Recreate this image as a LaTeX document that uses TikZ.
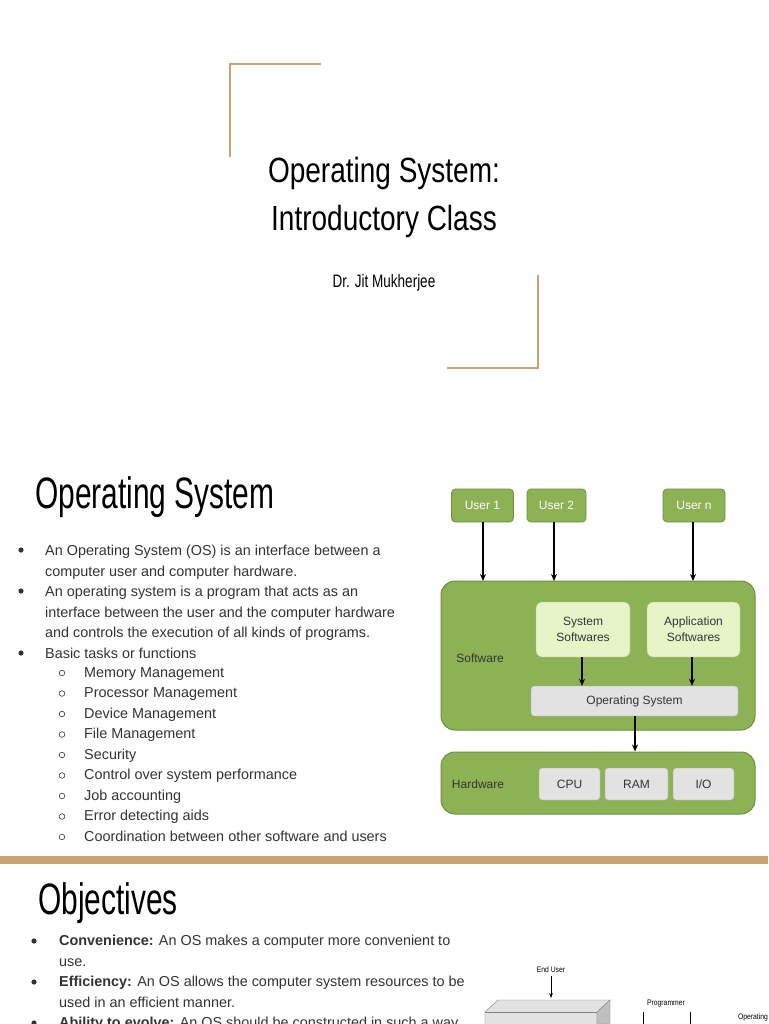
\documentclass[tikz,border=0pt]{standalone}
\usepackage{fontspec}
\setmainfont{Liberation Sans}
\usetikzlibrary{arrows.meta}
\definecolor{tan}{HTML}{C9A271}
\definecolor{gfill}{HTML}{8DB255}
\definecolor{gdraw}{HTML}{6E8F3E}
\definecolor{lgfill}{HTML}{E6F5C8}
\definecolor{gray1}{HTML}{E2E2E2}
\definecolor{txt}{HTML}{333333}
\begin{document}
\begin{tikzpicture}[x=1pt,y=-1pt,
  title/.style={font=\fontsize{35}{36}\selectfont, xscale=0.8, transform shape, inner sep=0},
  big/.style={font=\fontsize{44}{46}\selectfont, xscale=0.68, transform shape, inner sep=0, anchor=west},
  body/.style={font=\fontsize{14.4}{20.5}\selectfont, text=txt, anchor=north west, inner sep=0, align=left},
  usr/.style={draw=gdraw, fill=gfill, rounded corners=4pt, line width=0.8pt, text=white, font=\fontsize{12}{13}\selectfont, minimum width=62pt, minimum height=33pt},
  grp/.style={draw=gdraw, fill=gfill, rounded corners=14pt, line width=1pt},
  inner/.style={draw=gdraw!60, fill=lgfill, rounded corners=6pt, align=center, font=\fontsize{12}{16}\selectfont, text=txt},
  gbox/.style={draw=gray!70, fill=gray1, rounded corners=3pt, font=\fontsize{12}{13}\selectfont, text=txt},
  arr/.style={-{Stealth[length=7pt,width=6pt]}, line width=1.5pt},
  br/.style={draw=tan, line width=1.2pt}]
\useasboundingbox (0,0) rectangle (768,1024);
\fill[white] (0,0) rectangle (768,1024);
% slide 1
\draw[br] (230,157) -- (230,64) -- (321,64);
\draw[br] (447,368) -- (538,368) -- (538,275);
\node[title] (t1) at (384,173) {Operating System:};
\node[title] (t2) at (384,221) {Introductory Class};
\node[font=\fontsize{18}{19}\selectfont, xscale=0.75, transform shape] (au) at (384,283) {Dr. Jit Mukherjee};
% slide 2
\node[big] (h2) at (35,497) {Operating System};
\node[body] (l1) at (45,545) {An Operating System (OS) is an interface between a\\computer user and computer hardware.\\An operating system is a program that acts as an\\interface between the user and the computer hardware\\and controls the execution of all kinds of programs.\\Basic tasks or functions};
\foreach \y in {550,591,653} \fill[txt] (21,\y) circle (2.6pt);
\node[body] (l2) at (84,667) {Memory Management\\Processor Management\\Device Management\\File Management\\Security\\Control over system performance\\Job accounting\\Error detecting aids\\Coordination between other software and users};
\foreach \i in {0,...,8} \draw[txt,line width=0.6pt] (62,673+20.5*\i) circle (2.8pt);
% diagram
\node[grp, minimum width=314pt, minimum height=149pt] (sw) at (598,655.5) {};
\node[grp, minimum width=314pt, minimum height=62pt] (hw) at (598,783) {};
\node[usr] (u1) at (482.5,505.5) {User 1};
\node[usr, minimum width=59pt] (u2) at (556.5,505.5) {User 2};
\node[usr] (un) at (694,505.5) {User n};
\node[font=\fontsize{12}{13}\selectfont, text=txt] (swl) at (480,658) {Software};
\node[font=\fontsize{12}{13}\selectfont, text=txt] (hwl) at (478,784) {Hardware};
\node[inner, minimum width=94pt, minimum height=55pt] (ss) at (583,629.5) {System\\Softwares};
\node[inner, minimum width=93pt, minimum height=55pt] (as) at (693.5,629.5) {Application\\Softwares};
\node[gbox, minimum width=207pt, minimum height=30pt] (os) at (634.5,701) {Operating System};
\node[gbox, minimum width=61pt, minimum height=32pt] (cpu) at (569.5,784) {CPU};
\node[gbox, minimum width=63pt, minimum height=32pt] (ram) at (636.5,784) {RAM};
\node[gbox, minimum width=61pt, minimum height=32pt] (io) at (703.5,784) {I/O};
\draw[arr] (u1.south -| 483,0) -- (483,581);
\draw[arr] (u2.south -| 554,0) -- (554,581);
\draw[arr] (un.south -| 693,0) -- (693,581);
\draw[arr] (ss.south -| 582,0) -- (os.north -| 582,0);
\draw[arr] (as.south -| 692,0) -- (os.north -| 692,0);
\draw[arr] (os.south -| 635,0) -- (hw.north -| 635,0);
% band
\fill[tan] (0,856) rectangle (768,864);
% slide 3
\node[big] (h3) at (38,903) {Objectives};
\node[body] (o1) at (59,935) {\textbf{Convenience:} An OS makes a computer more convenient to\\use.\\\textbf{Efficiency:} An OS allows the computer system resources to be\\used in an efficient manner.\\\textbf{Ability to evolve:} An OS should be constructed in such a way};
\foreach \y in {941,982,1023} \fill[txt] (34,\y) circle (2.6pt);
\node[font=\fontsize{8}{9}\selectfont, xscale=0.85, transform shape] (eu) at (551,970) {End User};
\coordinate (eb) at (551,998);
\draw[-{Stealth[length=5pt]}, line width=0.6pt] (eu.south) -- (eb);
\draw[gray, fill=gray1] (485,1024) -- (485,1012) -- (498,1000) -- (610,1000) -- (597,1012) -- (597,1024);
\draw[gray] (597,1012) -- (485,1012);
\draw[gray, fill=gray!50] (597,1012) -- (610,1000) -- (610,1024) -- (597,1024) -- cycle;
\node[font=\fontsize{8}{9}\selectfont, xscale=0.85, transform shape] (pr) at (666,1004) {Programmer};
\draw[line width=0.6pt] (643,1012) -- (643,1024);
\draw[line width=0.6pt] (690,1012) -- (690,1024);
\node[font=\fontsize{8}{9}\selectfont, xscale=0.85, transform shape, anchor=west] (op) at (735,1017) {Operating};
\end{tikzpicture}
\end{document}
